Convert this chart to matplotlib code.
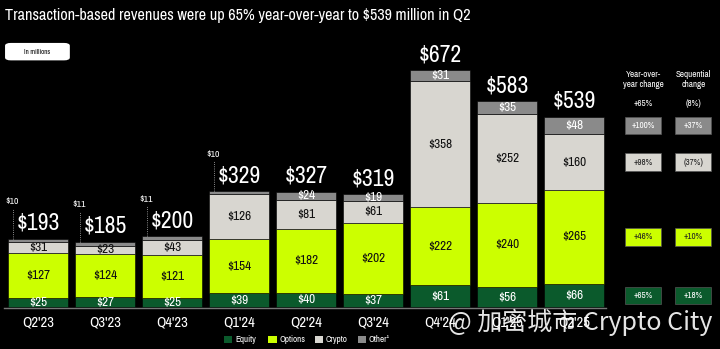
import matplotlib.pyplot as plt
from matplotlib.patches import FancyBboxPatch, Rectangle

quarters = ["Q2'23", "Q3'23", "Q4'23", "Q1'24", "Q2'24", "Q3'24", "Q4'24", "Q1'25", "Q2'25"]
equity = [25, 27, 25, 39, 40, 37, 61, 56, 66]
options = [127, 124, 121, 154, 182, 202, 222, 240, 265]
crypto = [31, 23, 43, 126, 81, 61, 358, 252, 160]
other = [10, 11, 11, 10, 24, 19, 31, 35, 48]
totals = [193, 185, 200, 329, 327, 319, 672, 583, 539]

yoy = ["+100%", "+98%", "+46%", "+65%"]      # other, crypto, options, equity
seq = ["+37%", "(37%)", "+10%", "+18%"]

c_eq = "#0b5a2c"
c_op = "#ccff00"
c_cr = "#d8d6d0"
c_ot = "#8a8a8a"

plt.rcParams['font.family'] = ['Archivo Narrow', 'Roboto Condensed', 'DejaVu Sans']

fig = plt.figure(figsize=(7.2, 3.49), dpi=100, facecolor='black')
ax = fig.add_axes([0, 0, 1, 1])
ax.set_facecolor('black')
ax.set_xlim(-0.567, 10.179)
ax.set_ylim(-119.1, 870.4)
ax.axis('off')

x = list(range(len(quarters)))
w = 0.9
b1 = equity
b2 = [a + b for a, b in zip(equity, options)]
b3 = [a + b for a, b in zip(b2, crypto)]

ax.bar(x, equity, w, color=c_eq, edgecolor='black', linewidth=0.4)
ax.bar(x, options, w, bottom=b1, color=c_op, edgecolor='black', linewidth=0.4)
ax.bar(x, crypto, w, bottom=b2, color=c_cr, edgecolor='black', linewidth=0.4)
ax.bar(x, other, w, bottom=b3, color=c_ot, edgecolor='black', linewidth=0.4)
ax.plot([-0.5, 8.48], [-2, -2], color='#777777', lw=1)

for i in x:
    ax.text(i, equity[i] / 2, f"${equity[i]}", ha='center', va='center', color='white', fontsize=9.5)
    ax.text(i, b1[i] + options[i] / 2, f"${options[i]}", ha='center', va='center', color='#111111', fontsize=9.5)
    ax.text(i, b2[i] + crypto[i] / 2, f"${crypto[i]}", ha='center', va='center', color='#111111', fontsize=9.5)
    ax.text(i, totals[i] + 14, f"${totals[i]}", ha='center', va='bottom', color='white', fontsize=17)
    ax.text(i, -43, quarters[i], ha='center', va='center', color='white', fontsize=10.5)
    if other[i] >= 15:
        ax.text(i, b3[i] + other[i] / 2, f"${other[i]}", ha='center', va='center', color='white', fontsize=9.5)
    else:
        # small callout above the bar
        xl = i - 0.38
        ax.plot([xl, xl], [totals[i], totals[i] + 85], color='#bbbbbb', lw=0.6, ls=':')
        ax.text(xl, totals[i] + 92, f"${other[i]}", ha='center', va='bottom', color='white', fontsize=7)

# change table on the right
cx = [9.03, 9.78]
ax.text(cx[0], 645, "Year-over-\nyear change", ha='center', va='center', color='white', fontsize=6.5, fontweight='bold', linespacing=1.1)
ax.text(cx[1], 645, "Sequential\nchange", ha='center', va='center', color='white', fontsize=6.5, fontweight='bold', linespacing=1.1)
ax.text(cx[0], 578, "+65%", ha='center', va='center', color='white', fontsize=6.5)
ax.text(cx[1], 578, "(8%)", ha='center', va='center', color='white', fontsize=6.5)

last = len(quarters) - 1
centers = [b3[last] + other[last] / 2, b2[last] + crypto[last] / 2, b1[last] + options[last] / 2, equity[last] / 2]
fills = [c_ot, c_cr, c_op, c_eq]
tcols = ['white', '#222222', '#222222', 'white']
for k in range(4):
    for j, vals in enumerate([yoy, seq]):
        ax.add_patch(Rectangle((cx[j] - 0.27, centers[k] - 25), 0.54, 50, facecolor=fills[k],
                               edgecolor='#555555', lw=0.5))
        ax.text(cx[j], centers[k], vals[k], ha='center', va='center', color=tcols[k], fontsize=6.5)

# legend
leg = [("Equity", c_eq), ("Options", c_op), ("Crypto", c_cr), ("Other\u00b9", c_ot)]
lx = [2.78, 3.44, 4.13, 4.77]
for (name, col), px in zip(leg, lx):
    ax.add_patch(Rectangle((px, -103), 0.12, 22, facecolor=col, edgecolor='none'))
    ax.text(px + 0.17, -92, name, ha='left', va='center', color='white', fontsize=6.5)

# title and unit tag
fig.text(0.007, 0.955, "Transaction-based revenues were up 65% year-over-year to $539 million in Q2",
         ha='left', va='center', color='white', fontsize=11.6)
fig.patches.append(FancyBboxPatch((0.012, 0.832), 0.08, 0.04, boxstyle='round,pad=0.005,rounding_size=0.008',
                                  transform=fig.transFigure, facecolor='white', edgecolor='none'))
fig.text(0.052, 0.852, "In millions", ha='center', va='center', color='black', fontsize=5)

# watermark
fig.text(0.99, 0.075, "@ 加密城市 Crypto City", ha='right', va='center', color='white', alpha=0.9,
         fontsize=18, family=['Noto Sans CJK SC', 'DejaVu Sans'])

fig.savefig('out.png', dpi=100, facecolor='black')
